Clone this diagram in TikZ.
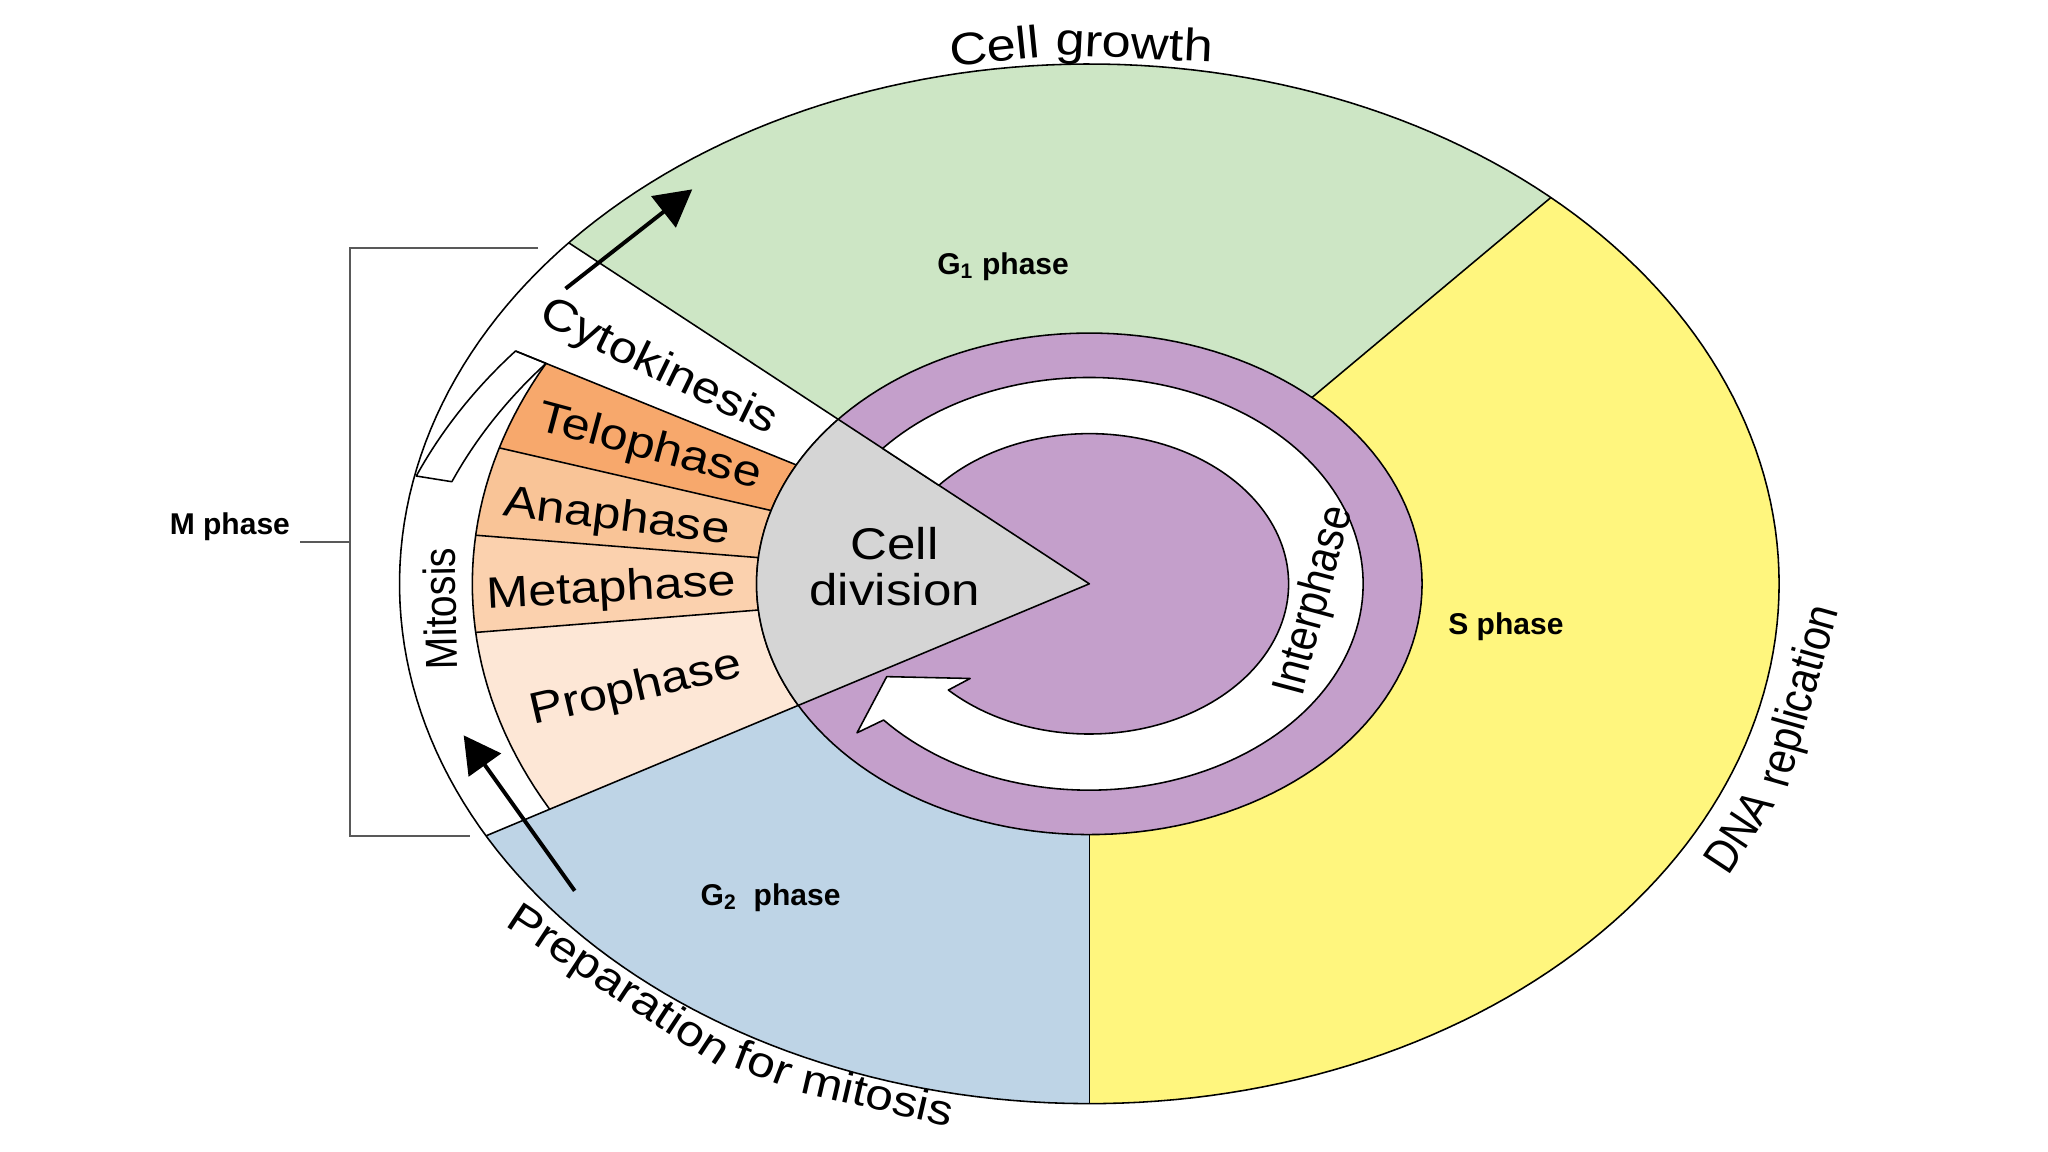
\documentclass[tikz,border=0pt]{standalone}
\usepackage{fontspec}
\setmainfont{Liberation Sans}
\newfontfamily\lab[FakeStretch=1.15]{Liberation Sans}
\newfontfamily\vlab[FakeStretch=0.87]{Liberation Sans}
\usetikzlibrary{arrows.meta}
\definecolor{cGone}{HTML}{CDE6C5}
\definecolor{cSph}{HTML}{FFF67E}
\definecolor{cGtwo}{HTML}{BED4E6}
\definecolor{cPurp}{HTML}{C49FCB}
\definecolor{cWedge}{HTML}{D5D5D5}
\definecolor{cTelo}{HTML}{F7A86C}
\definecolor{cAna}{HTML}{F9C497}
\definecolor{cMeta}{HTML}{FBD1AE}
\definecolor{cPro}{HTML}{FDE7D6}
\begin{document}
\begin{tikzpicture}[x=0.5pt,y=0.5pt,
  declare function={ex(\myr,\mya)=834+1.327*\myr*cos(\mya); ey(\myr,\mya)=435+\myr*sin(\mya);},
  edge/.style={line width=0.6pt,line join=round},
  phasetxt/.style={font=\lab\fontsize{16.8}{20}\selectfont,inner sep=0pt},
  vtxt/.style={font=\vlab\fontsize{18}{20}\selectfont,inner sep=0pt},
  rimtxt/.style={font=\lab\fontsize{16.5}{20}\selectfont,inner sep=0pt,anchor=base},
  boldtxt/.style={font=\bfseries\fontsize{11.5}{13}\selectfont,inner sep=0pt},
  blackarrow/.style={line width=1.5pt,-{Triangle[length=14pt,width=15pt]}},
  brk/.style={line width=1pt,draw=black!65},
]
\useasboundingbox (0,0) rectangle (1568,882);
\fill[white] (0,0) rectangle (1568,882);
\coordinate (ctr) at (834,435);

% main sectors
\fill[cGone] (ctr) -- plot[domain=48:139,samples=60] ({ex(398,\x)},{ey(398,\x)}) -- cycle;
\fill[cSph] (ctr) -- plot[domain=-90:48,samples=90] ({ex(398,\x)},{ey(398,\x)}) -- cycle;
\fill[cGtwo] (ctr) -- plot[domain=209:270,samples=40] ({ex(398,\x)},{ey(398,\x)}) -- cycle;

% mitosis phases
\fill[cTelo] (ctr) -- plot[domain=151.7:163,samples=20] ({ex(356,\x)},{ey(356,\x)}) -- cycle;
\fill[cAna] (ctr) -- plot[domain=163:174,samples=20] ({ex(356,\x)},{ey(356,\x)}) -- cycle;
\fill[cMeta] (ctr) -- plot[domain=174:186,samples=20] ({ex(356,\x)},{ey(356,\x)}) -- cycle;
\fill[cPro] (ctr) -- plot[domain=186:209,samples=30] ({ex(356,\x)},{ey(356,\x)}) -- cycle;

% mitosis bracket strip
\draw[edge,fill=white] ({ex(356,151.7)},{ey(356,151.7)})
  -- plot[domain=151.7:168,samples=30] ({ex(376+(\x-151.7)*1.288,\x)},{ey(376+(\x-151.7)*1.288,\x)})
  -- plot[domain=168:151.7,samples=30] ({ex(356+(\x-151.7)*1.227,\x)},{ey(356+(\x-151.7)*1.227,\x)})
  -- cycle;

% outlines
\draw[edge] plot[domain=0:360,samples=240] ({ex(398,\x)},{ey(398,\x)}) -- cycle;
\foreach \a/\ri/\ro in {48/192/398,139/192/398,209/192/398,270/192/398,151.7/192/376,163/192/356,174/192/356,186/192/356}
  \draw[edge] ({ex(\ri,\a)},{ey(\ri,\a)}) -- ({ex(\ro,\a)},{ey(\ro,\a)});
\draw[edge] plot[domain=151.7:209,samples=40] ({ex(356,\x)},{ey(356,\x)});

% interphase disk and cell-division wedge
\draw[edge,fill=cPurp] plot[domain=0:360,samples=160] ({ex(192,\x)},{ey(192,\x)}) -- cycle;
\draw[edge,fill=cWedge] (ctr) -- plot[domain=139:209,samples=40] ({ex(192,\x)},{ey(192,\x)}) -- cycle;

% white ring arrow
\draw[edge,fill=white]
  plot[domain=139:-138.7,samples=140] ({ex(158,\x)},{ey(158,\x)})
  -- ({ex(176,-139.6)},{ey(176,-139.6)})
  -- ({ex(136.8,-148.7)},{ey(136.8,-148.7)})
  -- ({ex(99.9,-133.5)},{ey(99.9,-133.5)})
  -- ({ex(115,-135)},{ey(115,-135)})
  -- plot[domain=-135:139,samples=140] ({ex(115,\x)},{ey(115,\x)})
  -- cycle;

% labels inside
\node[phasetxt,rotate=-26] (cyto) at (504,600) {Cytokinesis};
\node[phasetxt,rotate=-15] (telo) at (497,539) {Telophase};
\node[phasetxt,rotate=-7] (ana) at (472,485) {Anaphase};
\node[phasetxt,rotate=3] (meta) at (468,430) {Metaphase};
\node[phasetxt,rotate=13] (pro) at (487,354) {Prophase};
\node[phasetxt,align=center,font=\lab\fontsize{17}{17.5}\selectfont] (celldiv) at (685,448) {Cell\\division};
\node[vtxt,rotate=75] (inter) at (1007,422) {Interphase};
\node[vtxt,rotate=91,font=\vlab\fontsize{17.2}{20}\selectfont] (mito) at (337,416) {Mitosis};
\node[boldtxt] (g1) at (768,678) {G\textsubscript{1} phase};
\node[boldtxt] (sph) at (1153,402) {S phase};
\node[boldtxt] (g2) at (590,195) {G\textsubscript{2}\ \ phase};
\node[boldtxt] (mph) at (176,479) {M phase};

% labels around the rim, word by word along the ellipse
\node[rimtxt,font=\lab\fontsize{17.4}{20}\selectfont,rotate=5.8] (cg1) at (762.5,834.4) {Cell};
\node[rimtxt,font=\lab\fontsize{17.4}{20}\selectfont,rotate=-2.75] (cg2) at (868,837.2) {growth};
\node[rimtxt,rotate=-33.4] (pm1) at (468.2,119.5) {Preparation};
\node[rimtxt,rotate=-20.8] (pm2) at (581.1,57.4) {for};
\node[rimtxt,rotate=-13.05] (pm3) at (669.7,32.6) {mitosis};
\node[rimtxt,font=\vlab\fontsize{18}{20}\selectfont,rotate=56.5] (dna1) at (1341.5,238.4) {DNA};
\node[rimtxt,font=\vlab\fontsize{18}{20}\selectfont,rotate=74.2] (dna2) at (1388.2,346.2) {replication};

% black arrows
\coordinate (a1s) at (433,661);
\coordinate (a1e) at (530,737);
\draw[blackarrow] (a1s) -- (a1e);
\coordinate (a2s) at (440,200);
\coordinate (a2e) at (355,319);
\draw[blackarrow] (a2s) -- (a2e);

% M phase bracket
\coordinate (bt1) at (412,692);
\coordinate (bt0) at (268,692);
\coordinate (bb0) at (268,242);
\coordinate (bb1) at (360,242);
\coordinate (bm) at (268,467);
\coordinate (bl) at (230,467);
\draw[brk] (bt1) -- (bt0) -- (bb0) -- (bb1);
\draw[brk] (bl) -- (bm);
\end{tikzpicture}
\end{document}
